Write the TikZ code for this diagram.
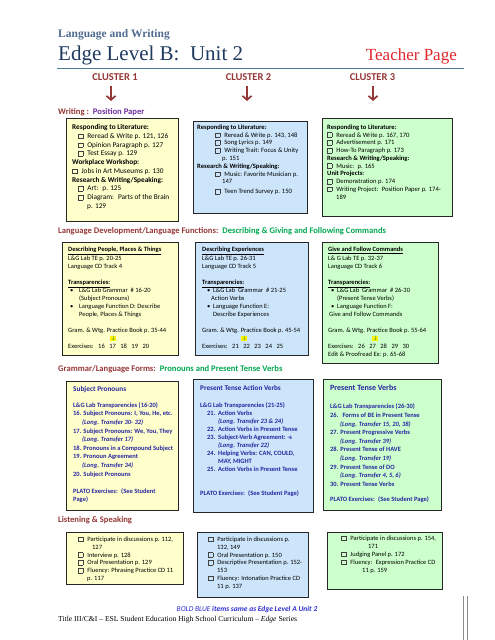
\documentclass[tikz,border=0pt]{standalone}
\usepackage{fontspec}
\setmainfont{Carlito}
\newfontfamily\hdserif{Liberation Serif}
\newfontfamily\symfont{DejaVu Sans}
\usepackage{xcolor}
\usetikzlibrary{arrows.meta}

\definecolor{boxyellow}{HTML}{FFFFCC}
\definecolor{boxblue}{HTML}{CCE5FA}
\definecolor{boxgreen}{HTML}{CCFFCC}
\definecolor{darkred}{HTML}{953735}
\definecolor{hdblue}{HTML}{4F6B8F}
\definecolor{titlenavy}{HTML}{1F3A5F}
\definecolor{tpred}{HTML}{E0262B}
\definecolor{rulecol}{HTML}{4F7A96}
\definecolor{ppurple}{HTML}{7030A0}
\definecolor{hdgreen}{HTML}{00A650}
\definecolor{gblue}{HTML}{2626A0}
\definecolor{ftblue}{HTML}{2B2BD0}
\definecolor{arrowgreen}{HTML}{3BAA1E}

\newcommand\fs[2]{\fontsize{#1}{#2}\selectfont}
\newcommand\cb{{\setlength\fboxsep{0pt}\setlength\fboxrule{0.3pt}\color{black!75}\fbox{\rule{0pt}{4.3pt}\rule{4.3pt}{0pt}}}}
\newcommand\ck[1][0pt]{\hspace*{#1}\cb\hspace{4.3pt}}
\newcommand\gp{\hspace{4.5pt}}
\newcommand\nm[1]{\hspace*{7pt}\makebox[11pt][l]{#1}}
\newcommand\dnarrow{{\setlength\fboxsep{0.6pt}\colorbox{yellow}{\textcolor{arrowgreen}{\symfont\fs{6}{6}↓}}}}

\begin{document}
\begin{tikzpicture}[x=1pt, y=-1pt,
  panel/.style={draw=black!85, line width=0.8pt, anchor=north west, inner sep=0pt},
  body/.style={anchor=north west, inner sep=0pt, align=left},
  hd/.style={anchor=base west, inner sep=0pt, font=\bfseries\fs{8.6}{10}},
  cluster/.style={anchor=base, inner sep=0pt, font=\bfseries\fs{10.5}{12}, text=darkred},
  bigarrow/.style={draw=darkred, line width=1.7pt, -{Straight Barb[length=4pt,width=9pt]}}]
  \useasboundingbox (0,0) rectangle (495,640);

  % header
  \node[anchor=base west, inner sep=0pt, font=\hdserif\bfseries\fs{11.5}{12}, text=hdblue] (subj) at (58,37) {Language and Writing};
  \node[anchor=base west, inner sep=0pt, font=\hdserif\fs{21}{24}, text=titlenavy] (title) at (58,60) {Edge Level B:~ Unit 2};
  \node[anchor=base east, inner sep=0pt, font=\hdserif\fs{17}{20}, text=tpred] (tpage) at (457,60) {Teacher Page};
  \draw[rulecol, line width=0.9pt] (57,68) -- (464,68);

  % clusters
  \node[cluster] (cl1) at (115,80) {CLUSTER 1};
  \node[cluster] (cl2) at (248.5,80) {CLUSTER 2};
  \node[cluster] (cl3) at (372.5,80) {CLUSTER 3};
  \coordinate (ar1a) at (111,86);  \coordinate (ar1b) at (111,101);
  \coordinate (ar2a) at (247,86);  \coordinate (ar2b) at (247,101);
  \coordinate (ar3a) at (373,86);  \coordinate (ar3b) at (373,101);
  \draw[bigarrow] (ar1a) -- (ar1b);
  \draw[bigarrow] (ar2a) -- (ar2b);
  \draw[bigarrow] (ar3a) -- (ar3b);

  % writing
  \node[hd] (hwr) at (58,114) {\textcolor{darkred}{Writing :}\hspace{4pt}\textcolor{ppurple}{Position Paper}};
  \node[panel, fill=boxyellow, minimum width=112pt, minimum height=103pt] (wr1) at (66,118) {};
  \node[panel, fill=boxblue, minimum width=114pt, minimum height=92pt] (wr2) at (193,121) {};
  \node[panel, fill=boxgreen, minimum width=130pt, minimum height=98pt] (wr3) at (322,118) {};
  \node[body, font=\fs{7.3}{8.75}] (wr1t) at (72,124.3) {\textbf{Responding to Literature:}\\
    \ck[6pt]Reread \& Write p. 121, 126\\
    \ck[6pt]Opinion Paragraph p. 127\\
    \ck[6pt]Test Essay p. 129\\
    \textbf{Workplace Workshop:}\\
    \ck Jobs in Art Museums p. 130\\
    \textbf{Research \& Writing/Speaking:}\\
    \ck[6pt]Art:~ p. 125\\
    \ck[6pt]Diagram:~ Parts of the Brain\\
    \hspace*{15pt}p. 129};
  \node[body, font=\fs{6.6}{7.8}] (wr2t) at (197,124.5) {\textbf{Responding to Literature:}\\
    \ck[18pt]Reread \& Write p. 143, 148\\
    \ck[18pt]Song Lyrics p. 149\\
    \ck[18pt]Writing Trait: Focus \& Unity\\
    \hspace*{25pt}p. 151\\
    \textbf{Research \& Writing/Speaking:}\\
    \ck[18pt]Music: Favorite Musician p.\\
    \hspace*{25pt}147\\[2pt]
    \ck[18pt]Teen Trend Survey p. 150};
  \node[body, font=\fs{6.6}{7.75}] (wr3t) at (327,124.5) {\textbf{Responding to Literature:}\\
    \ck Reread \& Write p. 167, 170\\
    \ck Advertisement p. 171\\
    \ck How-To Paragraph p. 173\\
    \textbf{Research \& Writing/Speaking:}\\
    \ck Music:~ p. 165\\
    \textbf{Unit Projects:}\\
    \ck Demonstration p. 174\\
    \ck Writing Project:~ Position Paper p. 174-\\
    \hspace*{9pt}189};

  % language development
  \node[hd] (hld) at (58,233.3) {\textcolor{darkred}{Language Development/Language Functions:}\hspace{4pt}\textcolor{hdgreen}{Describing \& Giving and Following Commands}};
  \node[panel, fill=boxyellow, minimum width=116pt, minimum height=113pt] (ld1) at (62,242) {};
  \node[panel, fill=boxblue, minimum width=113pt, minimum height=113pt] (ld2) at (195,242) {};
  \node[panel, fill=boxgreen, minimum width=116pt, minimum height=121pt] (ld3) at (322,242) {};
  \node[body, font=\fs{6.5}{8}] (ld1t) at (68,246.6) {\textbf{\underline{Describing People, Places \& Things}}\\[1.5pt]
    L\&G Lab TE p. 20-25\\
    Language CD Track 4\\[8pt]
    \textbf{\underline{Transparencies:}}\\
    \hspace*{2pt}\makebox[9pt][l]{•}L\&G Lab Grammar~ \# 16-20\\
    \hspace*{11pt}(Subject Pronouns)\\
    \hspace*{2pt}\makebox[9pt][l]{•}Language Function D: Describe\\
    \hspace*{11pt}People, Places \& Things\\[8pt]
    Gram. \& Wtg. Practice Book p. 35-44\\
    \hspace*{42pt}\dnarrow\\
    Exercises:\gp 16\gp 17\gp 18\gp 19\gp 20};
  \node[body, font=\fs{6.5}{8}] (ld2t) at (202,246.6) {\textbf{\underline{Describing Experiences}}\\[1.5pt]
    L\&G Lab TE p. 26-31\\
    Language CD Track 5\\[8pt]
    \textbf{\underline{Transparencies:}}\\
    \hspace*{5pt}\makebox[6pt][l]{•}L\&G Lab~ Grammar~ \# 21-25\\
    \hspace*{9pt}Action Verbs\\
    \hspace*{5pt}\makebox[6pt][l]{•}Language Function E:\\
    \hspace*{11pt}Describe Experiences\\[8pt]
    Gram. \& Wtg. Practice Book p. 45-54\\
    \hspace*{39pt}\dnarrow\\
    Exercises:\gp 21\gp 22\gp 23\gp 24\gp 25};
  \node[body, font=\fs{6.5}{8}] (ld3t) at (328,246.6) {\textbf{\underline{Give and Follow Commands}}\\[1.5pt]
    L\& G Lab TE p. 32-37\\
    Language CD Track 6\\[8pt]
    \textbf{\underline{Transparencies:}}\\
    \hspace*{3pt}\makebox[6pt][l]{•}L\&G Lab~ Grammar~ \# 26-30\\
    \hspace*{9pt}(Present Tense Verbs)\\
    \hspace*{3pt}\makebox[6pt][l]{•}Language Function F:\\
    \hspace*{1pt}Give and Follow Commands\\[8pt]
    Gram. \& Wtg. Practice Book p. 55-64\\
    \hspace*{44pt}\dnarrow\\
    Exercises:\gp 26\gp 27\gp 28\gp 29\gp 30\\
    Edit \& Proofread Ex: p. 65-68};

  % grammar
  \node[hd] (hgr) at (58,371.7) {\textcolor{darkred}{Grammar/Language Forms:}\hspace{4pt}\textcolor{hdgreen}{Pronouns and Present Tense Verbs}};
  \node[panel, fill=boxyellow, minimum width=112pt, minimum height=129pt] (gr1) at (66,381) {};
  \node[panel, fill=boxblue, minimum width=120pt, minimum height=133pt] (gr2) at (193,379) {};
  \node[panel, fill=boxgreen, minimum width=118pt, minimum height=131pt] (gr3) at (323,379) {};
  \node[body, font=\bfseries\fs{6.5}{8.6}, text=gblue] (gr1t) at (73,386) {{\fs{7.3}{8.6}Subject Pronouns}\\[7.4pt]
    L\&G Lab Transparencies (16-20)\\
    16. Subject Pronouns: I, You, He, etc.\\
    \hspace*{9pt}\textit{(Long. Transfer 30- 32)}\\
    17. Subject Pronouns: We, You, They\\
    \hspace*{9pt}\textit{(Long. Transfer 17)}\\
    18. Pronouns in a Compound Subject\\
    19. Pronoun Agreement\\
    \hspace*{9pt}\textit{(Long. Transfer 34)}\\
    20. Subject Pronouns\\[8.4pt]
    PLATO Exercises:~ (See Student\\
    Page)};
  \node[body, font=\bfseries\fs{6.5}{8}, text=gblue] (gr2t) at (200,385) {{\fs{7.2}{8}Present Tense Action Verbs}\\[9pt]
    L\&G Lab Transparencies (21-25)\\
    \nm{21.}Action Verbs\\
    \hspace*{18pt}\textit{(Long. Transfer 23 \& 24)}\\
    \nm{22.}Action Verbs in Present Tense\\
    \nm{23.}Subject-Verb Agreement: -s\\
    \hspace*{18pt}\textit{(Long. Transfer 22)}\\
    \nm{24.}Helping Verbs: CAN, COULD,\\
    \hspace*{18pt}MAY, MIGHT\\
    \nm{25.}Action Verbs in Present Tense\\[16.5pt]
    PLATO Exercises:~ (See Student Page)};
  \node[body, font=\bfseries\fs{6.5}{8.6}, text=gblue] (gr3t) at (330,385) {{\fs{8}{8.6}Present Tense Verbs}\\[9.4pt]
    L\&G Lab Transparencies (26-30)\\
    26.\hspace{4pt}Forms of BE in Present Tense\\
    \hspace*{10pt}\textit{(Long. Transfer 15, 20, 38)}\\
    27. Present Progressive Verbs\\
    \hspace*{10pt}\textit{(Long. Transfer 39)}\\
    28. Present Tense of HAVE\\
    \hspace*{10pt}\textit{(Long. Transfer 19)}\\
    29. Present Tense of DO\\
    \hspace*{10pt}\textit{(Long. Transfer 4, 5, 6)}\\
    30. Present Tense Verbs\\[6.4pt]
    PLATO Exercises:~ (See Student Page)};

  % listening
  \node[hd] (hls) at (58,522.7) {\textcolor{darkred}{Listening \& Speaking}};
  \node[panel, fill=boxyellow, minimum width=117pt, minimum height=52pt] (ls1) at (66,532) {};
  \node[panel, fill=boxblue, minimum width=111pt, minimum height=65pt] (ls2) at (197,532) {};
  \node[panel, fill=boxgreen, minimum width=115pt, minimum height=57pt] (ls3) at (327,532) {};
  \node[body, font=\fs{6.5}{7.8}] (ls1t) at (78,536.6) {\ck Participate in discussions p. 112,\\
    \hspace*{14pt}127\\
    \ck Interview p. 128\\
    \ck Oral Presentation p. 129\\
    \ck Fluency: Phrasing Practice CD 11\\
    \hspace*{9pt}p. 117};
  \node[body, font=\fs{6.5}{7.8}] (ls2t) at (208,536.6) {\ck Participate in discussions p.\\
    \hspace*{9pt}132, 149\\
    \ck Oral Presentation p. 150\\
    \ck Descriptive Presentation p. 152-\\
    \hspace*{9pt}153\\
    \ck Fluency: Intonation Practice CD\\
    \hspace*{9pt}11 p. 137};
  \node[body, font=\fs{6.5}{8}] (ls3t) at (341,535.6) {\ck Participate in discussions p. 154,\\
    \hspace*{27pt}171\\
    \ck Judging Panel p. 172\\
    \ck Fluency:~ Expression Practice CD\\
    \hspace*{21pt}11 p. 159};

  % footer
  \node[anchor=base, inner sep=0pt, font=\fs{7.5}{9}, text=ftblue] (note) at (247,611.3) {\itshape BOLD BLUE \bfseries items same as Edge Level A Unit 2};
  \node[anchor=base west, inner sep=0pt, font=\hdserif\fs{7.6}{9}] (foot) at (58,621) {Title III/C\&I – ESL Student Education High School Curriculum – \textit{Edge} Series};
  \draw[black!45, line width=0.6pt] (463.5,596) -- (463.5,640);
  \draw[black!45, line width=0.6pt] (467,596) -- (467,640);
\end{tikzpicture}
\end{document}
